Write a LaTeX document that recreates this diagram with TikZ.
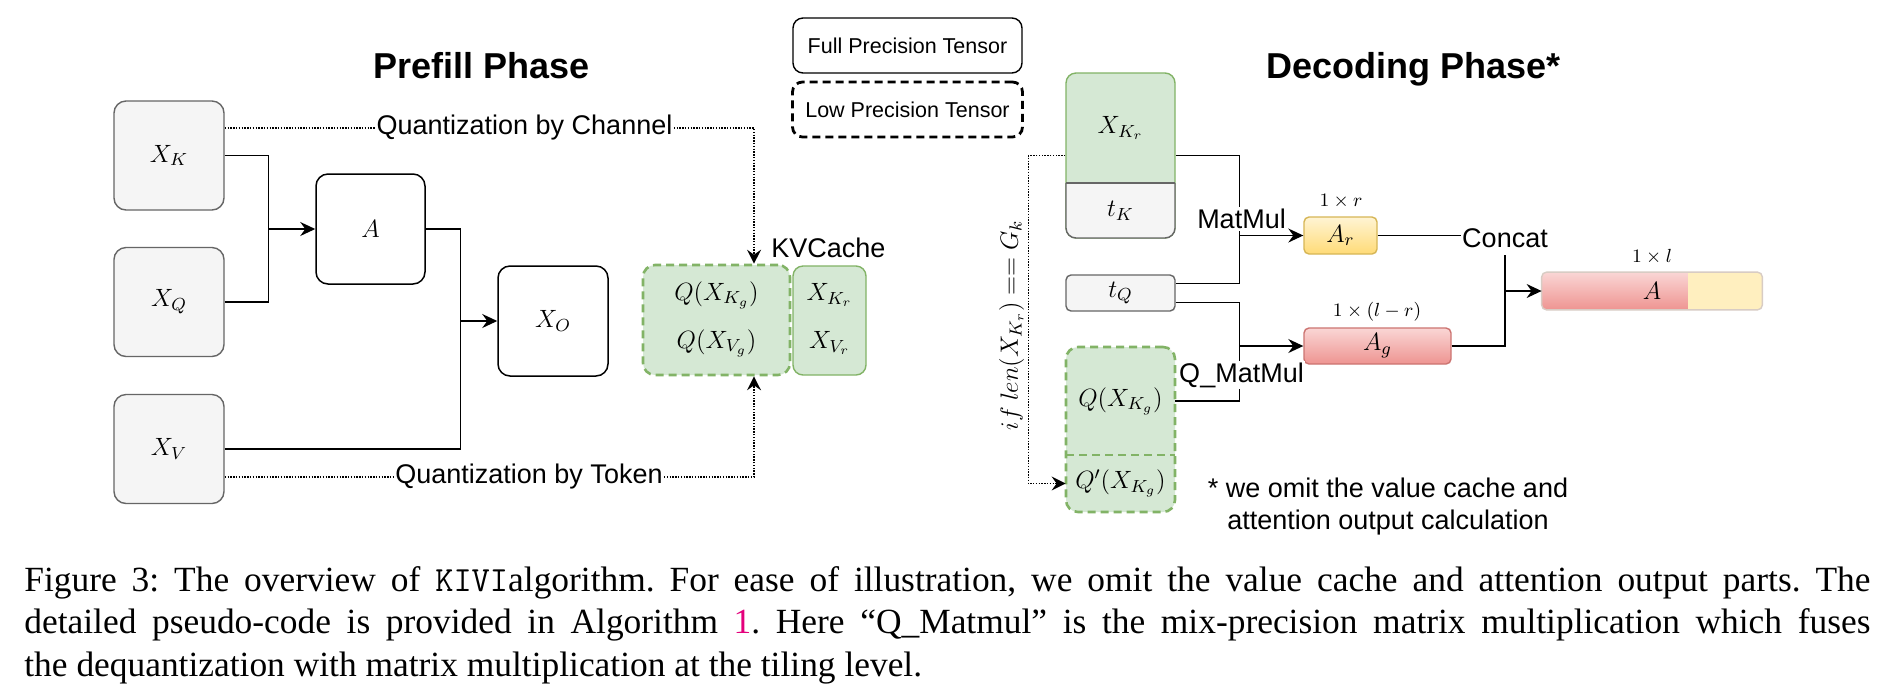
\RequirePackage{fix-cm}
\documentclass[tikz,border=0pt]{standalone}
\usepackage{fontspec}
\setmainfont{Liberation Serif}
\setsansfont{Liberation Sans}
\usetikzlibrary{arrows.meta,calc}
\definecolor{gfill}{HTML}{F5F5F5}
\definecolor{gline}{HTML}{666666}
\definecolor{grfill}{HTML}{D5E8D4}
\definecolor{grline}{HTML}{82B366}
\definecolor{ytop}{HTML}{FFF4D4}
\definecolor{ybot}{HTML}{FFDB77}
\definecolor{yline}{HTML}{D6B656}
\definecolor{yflat}{HTML}{FFEFBF}
\definecolor{rtop}{HTML}{FAD6D5}
\definecolor{rbot}{HTML}{EE9491}
\definecolor{rline}{HTML}{CC7471}
\definecolor{aline}{HTML}{D8CCC4}
\definecolor{capmag}{HTML}{E4007C}
\newcommand{\lblfont}{\sffamily\fontsize{13.5}{16}\selectfont}
\newcommand{\titlefont}{\sffamily\bfseries\fontsize{18}{22}\selectfont}
\newcommand{\legfont}{\sffamily\fontsize{10.75}{13}\selectfont}
\newcommand{\mfont}{\fontsize{12.5}{15}\selectfont}
\newcommand{\dimfont}{\fontsize{9.5}{11}\selectfont}
\newcommand{\capfnt}{\rmfamily\fontsize{17.7}{21.25}\selectfont\frenchspacing}
\begin{document}
\begin{tikzpicture}[x=0.5pt,y=-0.5pt,
  graybox/.style={draw=gline, fill=gfill, line width=0.7pt, rounded corners=6pt, font=\mfont},
  whitebox/.style={draw=black, fill=white, line width=0.75pt, rounded corners=6pt, font=\mfont},
  greenbox/.style={draw=grline, fill=grfill, line width=0.7pt},
  gdash/.style={draw=grline, fill=grfill, line width=1.3pt, dash pattern=on 4pt off 2.5pt},
  txt/.style={font=\mfont, inner sep=0pt},
  conn/.style={draw=black, line width=0.7pt},
  arr/.style={conn, -{Stealth[length=7.5pt,width=7pt,inset=2.5pt]}},
  dots/.style={draw=black, line width=0.7pt, dash pattern=on 0.7pt off 0.7pt},
  darr/.style={dots, -{Stealth[length=7pt,width=7pt,inset=2.5pt]}},
  lbl/.style={font=\lblfont, fill=white, inner xsep=0.5pt, inner ysep=1pt}
]
\fill[white] (0,0) rectangle (1890,698);
\useasboundingbox (0,0) rectangle (1890,698);

% titles
\node[font=\titlefont, anchor=base] (tpre) at (481.5,78) {Prefill Phase};
\node[font=\titlefont, anchor=base] (tdec) at (1413.5,78) {Decoding Phase*};

% prefill boxes
\node[graybox, minimum width=55pt, minimum height=54.5pt] (xk) at (169,155.5) {$X_K$};
\node[graybox, minimum width=55pt, minimum height=54.5pt] (xq) at (169,302) {$X_Q$};
\node[graybox, minimum width=55pt, minimum height=54.5pt] (xv) at (169,449) {$X_V$};
\node[whitebox, minimum width=54.5pt, minimum height=55pt] (a) at (370.5,229) {$A$};
\node[whitebox, minimum width=55pt, minimum height=55pt] (xo) at (553,321) {$X_O$};

\coordinate (j1) at ([xshift=-23.5pt]a.west);
\draw[conn] (xk.east) -| (j1);
\draw[conn] (xq.east) -| (j1);
\draw[arr] (j1) -- (a.west);
\coordinate (j2) at ([xshift=-18.5pt]xo.west);
\draw[conn] (a.east) -| (j2);
\draw[conn] (xv.east) -| (j2);
\draw[arr] (j2) -- (xo.west);

% KV cache
\node[gdash, minimum width=73.5pt, minimum height=55pt, rounded corners=6pt] (qkv) at (716.5,320) {};
\node[txt] (qk) at (716.5,295) {$Q(X_{K_g})$};
\node[txt] (qv) at (716.5,343) {$Q(X_{V_g})$};
\node[greenbox, minimum width=36.5pt, minimum height=54.5pt, rounded corners=5pt] (kvr) at (829.5,320.5) {};
\node[txt] (xkr2) at (829.5,295) {$X_{K_r}$};
\node[txt] (xvr2) at (829.5,343) {$X_{V_r}$};
\node[font=\lblfont, anchor=west, inner sep=0pt] (kvc) at (771,247.5) {KVCache};

% quantization paths
\node[lbl] (qch) at (524.5,128) {Quantization by Channel};
\node[lbl] (qtok) at (529,477) {Quantization by Token};
\draw[dots] ([yshift=13.75pt]xk.east) -- (qch.west);
\draw[darr] (qch.east) -| ([xshift=18.75pt]qkv.north);
\draw[dots] ([yshift=-14pt]xv.east) -- (qtok.west);
\draw[darr] (qtok.east) -| ([xshift=18.75pt]qkv.south);

% legend
\node[draw=black, line width=0.7pt, rounded corners=5pt, minimum width=114.5pt, minimum height=27.5pt, font=\legfont] (fp) at (907.5,45.5) {Full Precision Tensor};
\node[draw=black, line width=1.4pt, dash pattern=on 4pt off 2.5pt, rounded corners=5pt, minimum width=115pt, minimum height=27.5pt, font=\legfont] (lp) at (907.5,109.5) {Low Precision Tensor};

% decoding: K residual + t_K
\node[greenbox, minimum width=54.5pt, minimum height=82.5pt, rounded corners=5pt] (kbox) at (1120.5,155.5) {};
\begin{scope}
  \clip (1060,183) rectangle (1182,246);
  \node[greenbox, draw=gline, fill=gfill, minimum width=54.5pt, minimum height=82.5pt, rounded corners=5pt] (kboxlow) at (1120.5,155.5) {};
\end{scope}
\draw[draw=gline, line width=0.7pt] (1066,183) -- (1175,183);
\node[txt, minimum width=54.5pt, minimum height=55pt] (xkr) at (1120.5,128) {$X_{K_r}$};
\node[txt, minimum width=54.5pt, minimum height=27.5pt] (tk) at (1120.5,210.5) {$t_K$};

\node[graybox, rounded corners=2.5pt, minimum width=54.5pt, minimum height=18pt, inner sep=0pt] (tq) at (1120.5,293) {$t_Q$};

\node[gdash, minimum width=54.5pt, minimum height=82.5pt, rounded corners=6pt] (qbox) at (1120.5,429.5) {};
\draw[draw=grline, line width=1.3pt, dash pattern=on 4pt off 2.5pt] (1066,455) -- (1175,455);
\node[txt, minimum width=54.5pt, minimum height=54pt] (qkg) at (1120.5,401) {$Q(X_{K_g})$};
\node[txt, minimum width=54.5pt, minimum height=28.5pt] (qp) at (1120.5,483.5) {$Q'(X_{K_g})$};

% condition
\coordinate (d1) at ([xshift=-18.5pt]kbox.west);
\draw[darr] (kbox.west) -- (d1) |- (qp.west);
\node[font=\mfont, rotate=90, inner sep=0pt] (cond) at (1011.5,325) {$if\ len(X_{K_r}) == G_k$};

% results
\node[draw=yline, top color=ytop, bottom color=ybot, line width=0.7pt, rounded corners=2.5pt, minimum width=36.5pt, minimum height=18.5pt, inner sep=0pt, font=\mfont] (ar) at (1340.5,235.5) {$A_r$};
\node[draw=rline, top color=rtop, bottom color=rbot, line width=0.7pt, rounded corners=2.5pt, minimum width=73.5pt, minimum height=18pt, inner sep=0pt, font=\mfont] (ag) at (1377.5,346) {$A_g$};
\node[font=\dimfont] (dr) at (1341,201) {$1\times r$};
\node[font=\dimfont] (dg) at (1377,312) {$1\times(l-r)$};

\coordinate (j3) at ([xshift=-32pt]ar.west);
\draw[conn] (kbox.east) -| (j3);
\draw[conn] ([yshift=4.75pt]tq.east) -| (j3);
\draw[arr] (j3) -- (ar.west);
\coordinate (j4) at ([xshift=-32pt]ag.west);
\draw[conn] ([yshift=-4.75pt]tq.east) -| (j4);
\draw[conn] (qkg.east) -| (j4);
\draw[arr] (j4) -- (ag.west);
\node[lbl] (mm) at (1241.5,219) {MatMul};
\node[lbl] (qmm) at (1241.5,375) {Q\_MatMul};

% final A
\node[minimum width=110pt, minimum height=18.5pt, inner sep=0pt] (af) at (1652,291) {};
\begin{scope}
  \clip (1530,260) rectangle (1688,320);
  \shade[top color=rtop, bottom color=rbot, rounded corners=2.5pt] (af.south west) rectangle (af.north east);
\end{scope}
\begin{scope}
  \clip (1688,260) rectangle (1780,320);
  \fill[yflat, rounded corners=2.5pt] (af.south west) rectangle (af.north east);
\end{scope}
\draw[draw=aline, line width=0.7pt, rounded corners=2.5pt] (af.south west) rectangle (af.north east);
\node[txt] (alab) at (af.center) {$A$};
\node[font=\dimfont] (dl) at (1652,257) {$1\times l$};

\node[lbl, inner ysep=3.5pt] (concat) at (1505,238) {Concat};
\draw[conn] (ar.east) -- (ar.east -| concat.west);
\draw[conn] (ag.east) -| (concat.south);
\coordinate (j5) at (concat.south |- af.west);
\draw[arr] (j5) -- (af.west);

% note
\node[font=\lblfont, align=center, anchor=north, inner sep=0pt] (note) at (1388,478) {* we omit the value cache and\\attention output calculation};

% caption
\node[anchor=base west, inner sep=0pt] (cap) at (24,591) {\parbox[t]{923pt}{\capfnt Figure 3: The overview of \texttt{KIVI}algorithm. For ease of illustration, we omit the value cache and attention output parts. The\linebreak detailed pseudo-code is provided in Algorithm {\color{capmag}1}. Here “Q\_Matmul” is the mix-precision matrix multiplication which fuses\linebreak the dequantization with matrix multiplication at the tiling level.}};
\end{tikzpicture}
\end{document}
